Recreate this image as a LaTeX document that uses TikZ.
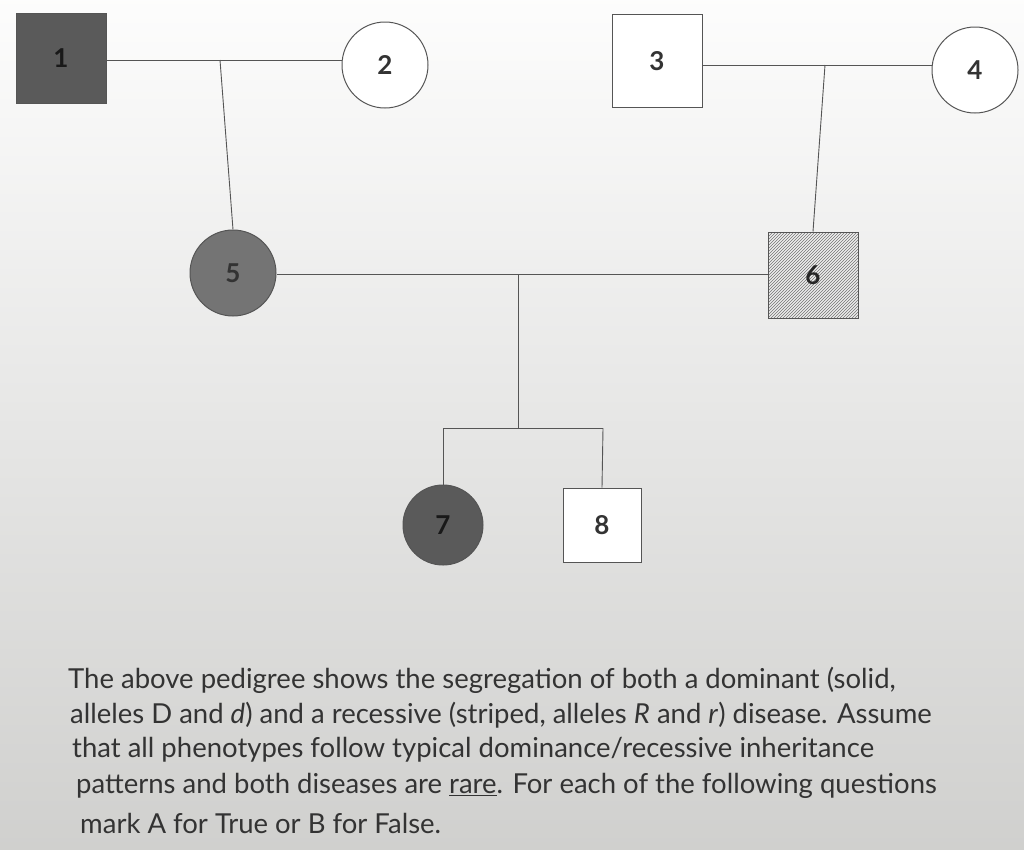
\documentclass[tikz,border=0pt]{standalone}
\usepackage{fontspec}
\setmainfont{Lato}
\usetikzlibrary{patterns}
\definecolor{bg}{HTML}{E2E2E0}
\definecolor{dk}{HTML}{5A5A5A}
\definecolor{md}{HTML}{747474}
\definecolor{ln}{HTML}{555555}
\begin{document}
\begin{tikzpicture}[x=1pt,y=-1pt,
  sq/.style={draw=ln,line width=1pt,minimum size=90pt,inner sep=0pt,font=\fontsize{26}{28}\selectfont\bfseries},
  ci/.style={draw=ln,circle,line width=1pt,minimum size=86pt,inner sep=0pt,font=\fontsize{26}{28}\selectfont\bfseries},
  con/.style={draw=ln,line width=0.9pt},
  txt/.style={anchor=west,inner sep=0pt,text=black!80,font=\fontsize{27.5}{30}\selectfont}]
\useasboundingbox (0,0) rectangle (1024,849);
\shade[top color=white!92!bg, bottom color=bg!92!black] (0,0) rectangle (1024,849);
\node[sq,fill=dk,text=black!90] (n1) at (61,58) {1};
\node[ci,fill=white,text=black!80] (n2) at (385,65) {2};
\node[sq,fill=white,text=black!80,minimum width=90pt,minimum height=93pt] (n3) at (657,61) {3};
\node[ci,fill=white,text=black!80] (n4) at (975,70) {4};
\node[ci,fill=md,text=black!80] (n5) at (233,273) {5};
\node[sq,fill=white!85!gray,pattern=north east lines,pattern color=black!55,minimum width=90pt,minimum height=86pt] (n6) at (813,275) {};
\node[font=\fontsize{26}{28}\selectfont\bfseries,text=black!85] at (n6) {6};
\node[ci,fill=dk,text=black!90,minimum size=80pt] (n7) at (443,525) {7};
\node[sq,fill=white,text=black!80,minimum width=78pt,minimum height=74pt] (n8) at (602,525) {8};
\coordinate (m12) at (220,60);
\coordinate (m34) at (825,65);
\coordinate (m56) at (518,274);
\coordinate (s) at (518,428);
\coordinate (sl) at (443,428);
\coordinate (sr) at (603,428);
\draw[con] (n1.east |- m12) -- (n2.west |- m12);
\draw[con] (m12) -- (n5.north);
\draw[con] (n3.east |- m34) -- (n4.west |- m34);
\draw[con] (m34) -- (n6.north);
\draw[con] (n5.east |- m56) -- (n6.west |- m56);
\draw[con] (m56) -- (s);
\draw[con] (sl) -- (sr);
\draw[con] (sl) -- (n7.north);
\draw[con] (sr) -- (n8.north);
\node[txt] (t1) at (68,680) {The above pedigree shows the segregation of both a dominant (solid,};
\node[txt] (t2) at (70,715) {alleles D and \textit{d}) and a recessive (striped, alleles \textit{R} and \textit{r}) disease. Assume};
\node[txt] (t3) at (72,750) {that all phenotypes follow typical dominance/recessive inheritance};
\node[txt] (t4) at (76,786) {patterns and both diseases are \underline{rare}. For each of the following questions};
\node[txt] (t5) at (80,823) {mark A for True or B for False.};
\end{tikzpicture}
\end{document}
